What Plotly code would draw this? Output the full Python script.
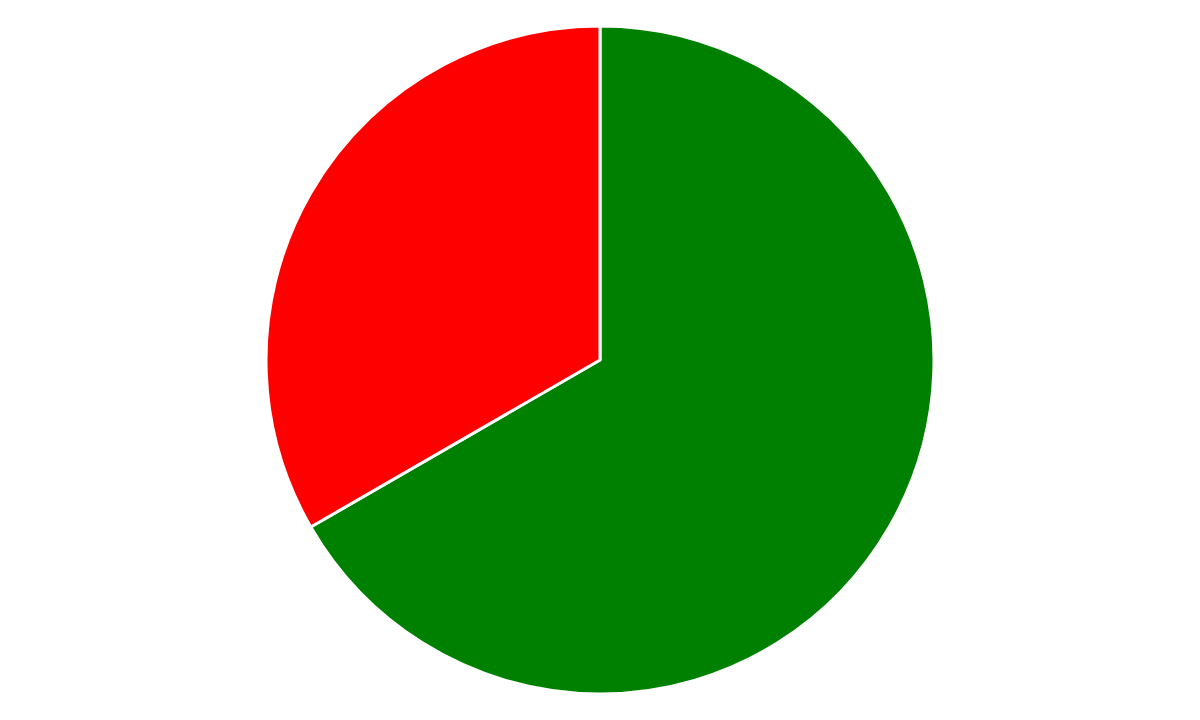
import plotly.graph_objects as go

labels = ["Green", "Red"]
values = [2, 1]
colors = ["green", "red"]

fig = go.Figure()

fig.add_trace(go.Pie(
    labels=labels, values=values, sort=False, direction='clockwise', rotation=0,
    marker=dict(colors=colors, line=dict(color='white', width=3)),
    textinfo='none', hoverinfo='label+value+percent'
))

fig.update_layout(
    showlegend=False, template='plotly_white',
    margin=dict(l=0, r=0, t=18, b=18),
    paper_bgcolor='white', plot_bgcolor='white'
)

fig.write_html("out.html")
